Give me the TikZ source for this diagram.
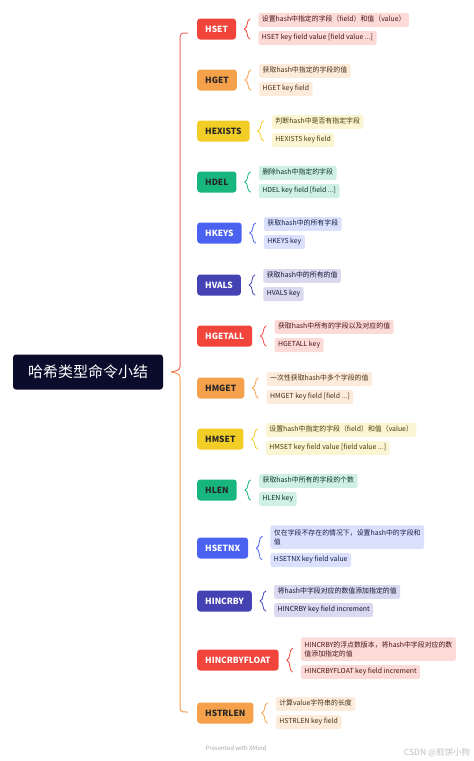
\documentclass[tikz,border=0pt]{standalone}
\usepackage{fontspec}
\setmainfont{Noto Sans CJK SC}
\usetikzlibrary{positioning,decorations.pathreplacing}

\definecolor{hnavy}{HTML}{0B0B2C}
\definecolor{hred}{HTML}{F1443B}
\definecolor{horange}{HTML}{F5A04B}
\definecolor{hyellow}{HTML}{F2CD25}
\definecolor{hgreen}{HTML}{17B67F}
\definecolor{hblue}{HTML}{4B62F0}
\definecolor{hindigo}{HTML}{4542B3}

\tikzset{
  root/.style={fill=hnavy, text=white, rounded corners=3pt, minimum width=150pt,
    minimum height=35pt, font=\fontsize{15}{16}\selectfont},
  cmd/.style={anchor=west, fill=#1, rounded corners=3pt, minimum height=21pt,
    inner xsep=8pt, text=black!85, font=\fontsize{8.5}{10}\selectfont\bfseries},
  box/.style={fill=#1!20, text=#1!30!black, rounded corners=2pt, inner xsep=3.5pt,
    inner ysep=3.5pt, font=\fontsize{6.9}{9}\selectfont},
  desc/.style={box=#1, text height=5.2pt, text depth=1.6pt},
  desctwo/.style={box=#1, align=left, inner ysep=4pt},
  br/.style={decorate, decoration={brace, amplitude=6pt}, line width=0.8pt},
  spine/.style={line width=1pt},
}

\begin{document}
\begin{tikzpicture}[x=1pt, y=1pt]
\useasboundingbox (0,0) rectangle (474,-761);

\node[root] (root) at (88,-372) {哈希类型命令小结};

% commands
\node[cmd=hred, text=white] (hset) at (197,-29) {HSET};
\node[cmd=horange] (hget) at (197,-80) {HGET};
\node[cmd=hyellow] (hexists) at (197,-131) {HEXISTS};
\node[cmd=hgreen] (hdel) at (197,-182) {HDEL};
\node[cmd=hblue, text=white] (hkeys) at (197,-233) {HKEYS};
\node[cmd=hindigo, text=white] (hvals) at (197,-285) {HVALS};
\node[cmd=hred, text=white] (hgetall) at (197,-336) {HGETALL};
\node[cmd=horange] (hmget) at (197,-388) {HMGET};
\node[cmd=hyellow] (hmset) at (197,-439) {HMSET};
\node[cmd=hgreen] (hlen) at (197,-490) {HLEN};
\node[cmd=hblue, text=white] (hsetnx) at (197,-548) {HSETNX};
\node[cmd=hindigo, text=white] (hincrby) at (197,-601) {HINCRBY};
\node[cmd=hred, text=white] (hincrbyfloat) at (197,-660) {HINCRBYFLOAT};
\node[cmd=horange] (hstrlen) at (197,-713) {HSTRLEN};

% main brace
\coordinate (tip) at ([xshift=8pt]root.east);
\draw[spine, hred!80] ([xshift=-9pt,yshift=-4pt]hset.west)
  .. controls ([xshift=-17pt,yshift=-4pt]hset.west) .. ([xshift=-17pt,yshift=-13pt]hset.west)
  -- ([xshift=9pt,yshift=10pt]tip) .. controls ([xshift=9pt,yshift=2pt]tip) .. (tip);
\draw[spine, horange] (tip) .. controls ([xshift=9pt,yshift=-2pt]tip) .. ([xshift=9pt,yshift=-10pt]tip)
  -- ([xshift=-17pt,yshift=9pt]hstrlen.west)
  .. controls ([xshift=-17pt,yshift=1pt]hstrlen.west) .. ([xshift=-9pt,yshift=1pt]hstrlen.west);

% descriptions
\node[desc=hred, above right=2pt and 22pt of hset.east] (hset-d) {设置hash中指定的字段（field）和值（value）};
\node[desc=hred, below right=2pt and 22pt of hset.east] (hset-s) {HSET key field value [field value ...]};
\draw[br, hred] ([xshift=-8pt,yshift=6pt]hset-s.south west) -- ([xshift=-8pt,yshift=-6pt]hset-d.north west);

\node[desc=horange, above right=2pt and 22pt of hget.east] (hget-d) {获取hash中指定的字段的值};
\node[desc=horange, below right=2pt and 22pt of hget.east] (hget-s) {HGET key field};
\draw[br, horange] ([xshift=-8pt,yshift=6pt]hget-s.south west) -- ([xshift=-8pt,yshift=-6pt]hget-d.north west);

\node[desc=hyellow, above right=2pt and 22pt of hexists.east] (hexists-d) {判断hash中是否有指定字段};
\node[desc=hyellow, below right=2pt and 22pt of hexists.east] (hexists-s) {HEXISTS key field};
\draw[br, hyellow] ([xshift=-8pt,yshift=6pt]hexists-s.south west) -- ([xshift=-8pt,yshift=-6pt]hexists-d.north west);

\node[desc=hgreen, above right=2pt and 22pt of hdel.east] (hdel-d) {删除hash中指定的字段};
\node[desc=hgreen, below right=2pt and 22pt of hdel.east] (hdel-s) {HDEL key field [field ...]};
\draw[br, hgreen] ([xshift=-8pt,yshift=6pt]hdel-s.south west) -- ([xshift=-8pt,yshift=-6pt]hdel-d.north west);

\node[desc=hblue, above right=2pt and 22pt of hkeys.east] (hkeys-d) {获取hash中的所有字段};
\node[desc=hblue, below right=2pt and 22pt of hkeys.east] (hkeys-s) {HKEYS key};
\draw[br, hblue] ([xshift=-8pt,yshift=6pt]hkeys-s.south west) -- ([xshift=-8pt,yshift=-6pt]hkeys-d.north west);

\node[desc=hindigo, above right=2pt and 22pt of hvals.east] (hvals-d) {获取hash中的所有的值};
\node[desc=hindigo, below right=2pt and 22pt of hvals.east] (hvals-s) {HVALS key};
\draw[br, hindigo] ([xshift=-8pt,yshift=6pt]hvals-s.south west) -- ([xshift=-8pt,yshift=-6pt]hvals-d.north west);

\node[desc=hred, above right=2pt and 22pt of hgetall.east] (hgetall-d) {获取hash中所有的字段以及对应的值};
\node[desc=hred, below right=2pt and 22pt of hgetall.east] (hgetall-s) {HGETALL key};
\draw[br, hred] ([xshift=-8pt,yshift=6pt]hgetall-s.south west) -- ([xshift=-8pt,yshift=-6pt]hgetall-d.north west);

\node[desc=horange, above right=2pt and 22pt of hmget.east] (hmget-d) {一次性获取hash中多个字段的值};
\node[desc=horange, below right=2pt and 22pt of hmget.east] (hmget-s) {HMGET key field [field ...]};
\draw[br, horange] ([xshift=-8pt,yshift=6pt]hmget-s.south west) -- ([xshift=-8pt,yshift=-6pt]hmget-d.north west);

\node[desc=hyellow, above right=2pt and 22pt of hmset.east] (hmset-d) {设置hash中指定的字段（field）和值（value）};
\node[desc=hyellow, below right=2pt and 22pt of hmset.east] (hmset-s) {HMSET key field value [field value ...]};
\draw[br, hyellow] ([xshift=-8pt,yshift=6pt]hmset-s.south west) -- ([xshift=-8pt,yshift=-6pt]hmset-d.north west);

\node[desc=hgreen, above right=2pt and 22pt of hlen.east] (hlen-d) {获取hash中所有的字段的个数};
\node[desc=hgreen, below right=2pt and 22pt of hlen.east] (hlen-s) {HLEN key};
\draw[br, hgreen] ([xshift=-8pt,yshift=6pt]hlen-s.south west) -- ([xshift=-8pt,yshift=-6pt]hlen-d.north west);

\node[desctwo=hblue, above right=-1pt and 22pt of hsetnx.east] (hsetnx-d) {仅在字段不存在的情况下，设置hash中的字段和\\值};
\node[desc=hblue, below right=5pt and 22pt of hsetnx.east] (hsetnx-s) {HSETNX key field value};
\draw[br, hblue] ([xshift=-8pt,yshift=7pt]hsetnx-s.south west) -- ([xshift=-8pt,yshift=-11pt]hsetnx-d.north west);

\node[desc=hindigo, above right=2pt and 22pt of hincrby.east] (hincrby-d) {将hash中字段对应的数值添加指定的值};
\node[desc=hindigo, below right=2pt and 22pt of hincrby.east] (hincrby-s) {HINCRBY key field increment};
\draw[br, hindigo] ([xshift=-8pt,yshift=6pt]hincrby-s.south west) -- ([xshift=-8pt,yshift=-6pt]hincrby-d.north west);

\node[desctwo=hred, above right=-1pt and 22pt of hincrbyfloat.east] (hincrbyfloat-d) {HINCRBY的浮点数版本，将hash中字段对应的数\\值添加指定的值};
\node[desc=hred, below right=5pt and 22pt of hincrbyfloat.east] (hincrbyfloat-s) {HINCRBYFLOAT key field increment};
\draw[br, hred] ([xshift=-8pt,yshift=7pt]hincrbyfloat-s.south west) -- ([xshift=-8pt,yshift=-11pt]hincrbyfloat-d.north west);

\node[desc=horange, above right=2pt and 22pt of hstrlen.east] (hstrlen-d) {计算value字符串的长度};
\node[desc=horange, below right=2pt and 22pt of hstrlen.east] (hstrlen-s) {HSTRLEN key field};
\draw[br, horange] ([xshift=-8pt,yshift=6pt]hstrlen-s.south west) -- ([xshift=-8pt,yshift=-6pt]hstrlen-d.north west);

% footer
\node[text=black!35, font=\fontsize{6}{7}\selectfont] (xmind) at (236,-748) {Presented with XMind};
\node[text=black!25, font=\fontsize{8.5}{10}\selectfont] (csdn) at (437,-753) {CSDN @煎饼小狗};
\end{tikzpicture}
\end{document}
